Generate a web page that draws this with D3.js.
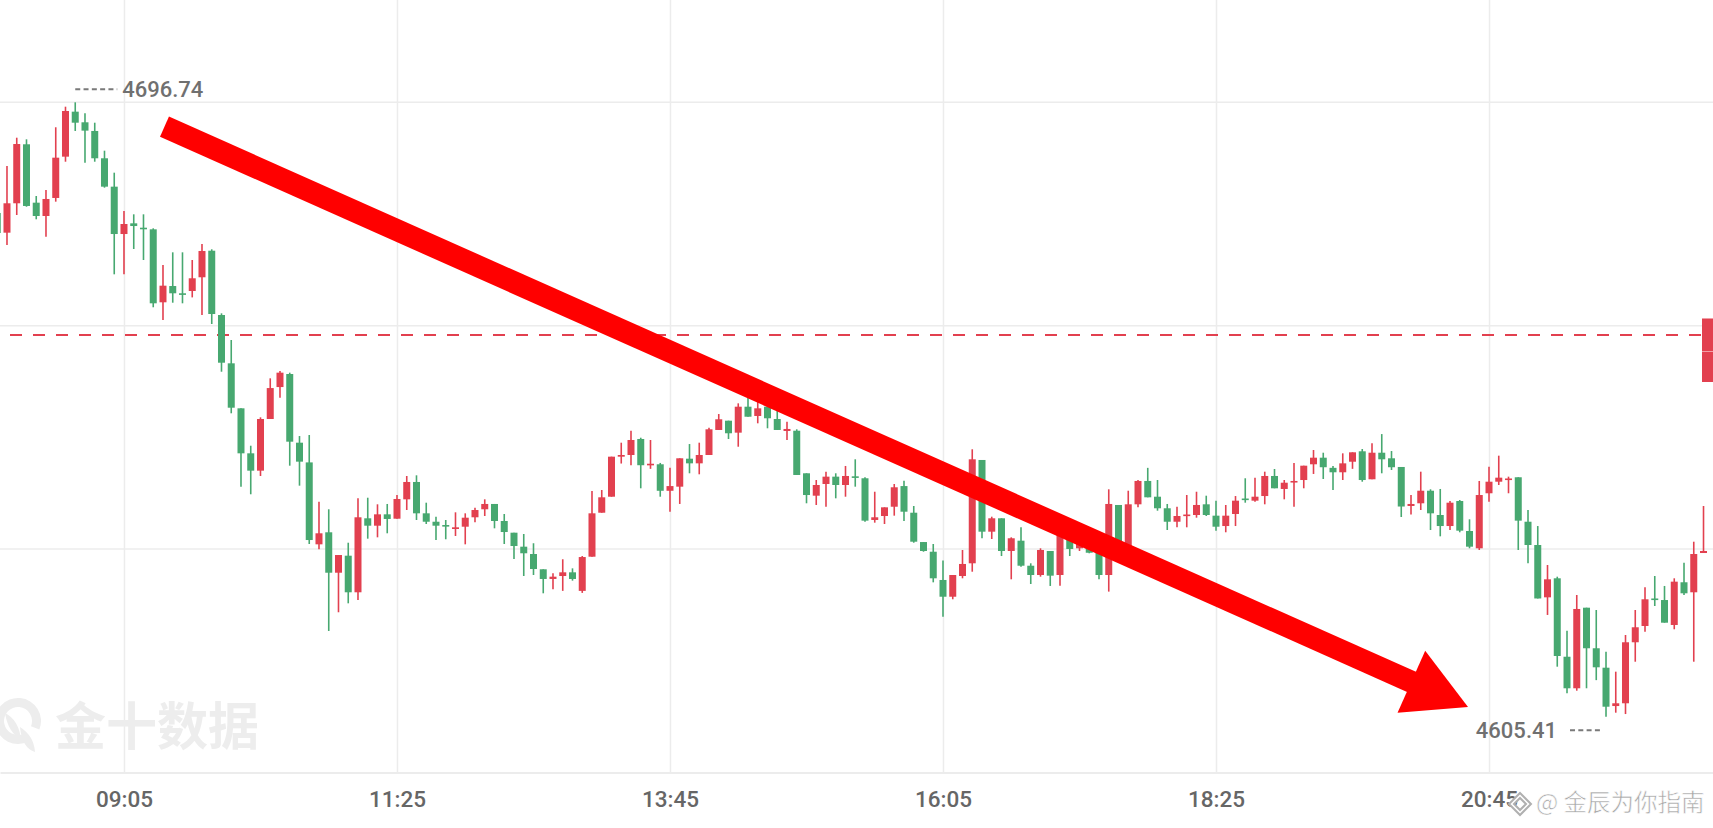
<!DOCTYPE html>
<html>
<head>
<meta charset="utf-8">
<script src="https://cdn.jsdelivr.net/npm/d3@7"></script>
<style>
  html, body { margin: 0; padding: 0; background: #fff; overflow: hidden; }
  svg { display: block; }
</style>
</head>
<body>
<div class="center"></div>
<script>
const w = 1713;
const h = 828;
const plotBottom = 772.5;

// 5 minute candles, first one at 08:00
const startTime = new Date(2026, 0, 5, 8, 0);
const stepMinutes = 5;

const open = [
  4680.29, 4677.36, 4681.73, 4690.50, 4681.82, 4679.84, 4682.52, 4688.66, 4695.35, 4693.77,
  4692.48, 4688.42, 4684.20, 4677.16, 4678.75, 4678.10, 4677.86, 4667.01, 4669.43, 4668.35,
  4668.69, 4670.73, 4674.68, 4665.12, 4657.94, 4651.25, 4644.56, 4641.98, 4649.66, 4654.41,
  4656.35, 4646.14, 4643.21, 4631.03, 4632.82, 4626.81, 4629.34, 4623.90, 4634.90, 4633.80,
  4635.49, 4634.84, 4637.72, 4640.30, 4635.64, 4634.39, 4633.90, 4633.31, 4633.65, 4635.05,
  4636.24, 4637.03, 4634.50, 4632.76, 4630.68, 4629.59, 4627.32, 4625.88, 4626.32, 4626.87,
  4624.11, 4629.19, 4635.73, 4638.11, 4644.06, 4644.31, 4646.69, 4642.86, 4642.93, 4638.99,
  4639.60, 4643.76, 4643.07, 4644.31, 4648.03, 4649.41, 4647.63, 4651.49, 4650.11, 4651.49,
  4649.66, 4647.88, 4647.92, 4641.59, 4638.26, 4640.00, 4641.09, 4639.85, 4641.14, 4640.85,
  4634.65, 4635.24, 4636.62, 4639.69, 4635.73, 4631.37, 4629.93, 4625.73, 4623.24, 4626.32,
  4628.21, 4643.57, 4632.91, 4634.90, 4630.04, 4631.57, 4627.85, 4626.47, 4630.04, 4626.47,
  4632.42, 4630.44, 4631.03, 4629.78, 4626.47, 4636.88, 4630.44, 4636.98, 4640.45, 4638.11,
  4636.39, 4634.39, 4635.31, 4635.39, 4636.98, 4635.29, 4633.75, 4635.54, 4637.84, 4637.52,
  4638.21, 4641.19, 4639.26, 4640.22, 4640.59, 4642.93, 4643.91, 4642.40, 4641.74, 4643.31,
  4644.86, 4640.70, 4644.65, 4643.82, 4642.53, 4636.73, 4637.13, 4639.00, 4635.39, 4633.75,
  4637.47, 4633.01, 4630.44, 4638.62, 4640.34, 4640.67, 4641.00, 4634.39, 4630.93, 4623.15,
  4625.98, 4614.32, 4609.63, 4621.61, 4615.58, 4612.69, 4606.99, 4607.40, 4616.47, 4618.89,
  4622.98, 4622.75, 4619.04, 4625.39, 4623.90, 4629.74
];
const high = [
  4681.33, 4687.27, 4691.48, 4691.24, 4682.81, 4683.70, 4693.03, 4696.09, 4696.74, 4695.11,
  4693.71, 4689.55, 4686.28, 4680.58, 4680.09, 4680.09, 4678.01, 4672.56, 4674.44, 4674.44,
  4673.30, 4675.68, 4674.89, 4665.37, 4661.41, 4651.25, 4645.69, 4649.91, 4655.71, 4656.80,
  4656.55, 4647.13, 4647.28, 4637.37, 4636.24, 4629.44, 4631.27, 4637.87, 4637.96, 4636.98,
  4637.03, 4638.36, 4641.19, 4641.29, 4637.22, 4635.14, 4634.65, 4635.79, 4635.64, 4636.47,
  4637.72, 4637.03, 4635.54, 4632.76, 4632.57, 4631.19, 4627.32, 4626.73, 4628.81, 4627.46,
  4629.29, 4638.96, 4639.11, 4644.06, 4646.14, 4647.92, 4646.88, 4646.54, 4643.13, 4642.40,
  4643.82, 4645.94, 4646.14, 4648.37, 4650.40, 4649.41, 4651.99, 4653.34, 4652.98, 4652.23,
  4651.74, 4649.26, 4648.13, 4641.59, 4640.59, 4641.83, 4641.59, 4642.68, 4643.67, 4641.00,
  4638.85, 4636.53, 4640.00, 4640.49, 4636.73, 4631.37, 4631.08, 4628.62, 4626.47, 4630.19,
  4645.16, 4643.57, 4635.14, 4634.90, 4632.07, 4633.56, 4628.21, 4630.44, 4630.04, 4632.82,
  4632.42, 4631.93, 4631.03, 4629.78, 4639.21, 4636.88, 4639.00, 4640.59, 4642.40, 4640.59,
  4637.03, 4636.62, 4638.36, 4638.85, 4638.26, 4637.52, 4636.88, 4638.21, 4640.85, 4640.94,
  4641.83, 4642.23, 4640.59, 4643.13, 4642.72, 4645.05, 4644.65, 4642.68, 4644.56, 4644.71,
  4645.20, 4646.05, 4647.42, 4644.90, 4642.53, 4638.36, 4641.83, 4639.21, 4639.26, 4637.47,
  4637.62, 4634.75, 4640.45, 4642.57, 4644.21, 4641.09, 4641.00, 4636.13, 4633.75, 4627.96,
  4626.22, 4618.18, 4623.50, 4621.61, 4621.27, 4615.07, 4612.10, 4617.55, 4621.27, 4624.64,
  4626.32, 4624.84, 4625.98, 4628.30, 4631.42, 4636.73
];
const low = [
  4676.27, 4675.53, 4679.99, 4681.22, 4679.35, 4676.76, 4681.97, 4687.91, 4692.48, 4687.77,
  4687.91, 4684.05, 4671.17, 4671.17, 4674.93, 4673.30, 4666.27, 4664.38, 4666.95, 4666.86,
  4667.74, 4665.12, 4663.78, 4656.69, 4650.51, 4639.60, 4638.47, 4641.19, 4649.66, 4652.83,
  4642.72, 4639.75, 4631.08, 4630.29, 4618.15, 4620.93, 4622.26, 4622.75, 4631.87, 4632.07,
  4632.67, 4634.84, 4636.13, 4634.65, 4634.05, 4631.67, 4631.78, 4632.27, 4631.03, 4634.30,
  4635.24, 4633.41, 4631.08, 4628.85, 4626.32, 4626.47, 4623.75, 4624.36, 4624.11, 4625.63,
  4623.81, 4629.19, 4635.73, 4638.11, 4643.04, 4642.79, 4639.36, 4642.25, 4638.11, 4635.88,
  4637.03, 4641.59, 4641.44, 4644.31, 4648.03, 4646.69, 4645.54, 4650.00, 4649.02, 4648.28,
  4648.03, 4646.54, 4641.34, 4637.13, 4636.88, 4636.62, 4637.87, 4638.11, 4639.60, 4634.39,
  4634.25, 4634.05, 4635.29, 4634.50, 4631.27, 4629.93, 4625.38, 4620.26, 4622.86, 4625.98,
  4626.96, 4631.93, 4631.82, 4629.29, 4625.83, 4627.70, 4625.13, 4626.22, 4624.84, 4624.89,
  4629.29, 4630.04, 4629.70, 4625.83, 4624.00, 4630.44, 4630.44, 4636.53, 4638.02, 4636.03,
  4633.16, 4633.56, 4633.56, 4634.99, 4635.24, 4633.06, 4632.82, 4633.75, 4637.22, 4637.37,
  4636.98, 4639.36, 4637.72, 4636.62, 4639.36, 4641.49, 4640.74, 4639.11, 4640.59, 4642.25,
  4640.34, 4640.70, 4641.59, 4642.08, 4635.09, 4635.46, 4636.13, 4633.16, 4632.22, 4633.16,
  4632.82, 4630.44, 4630.19, 4637.37, 4639.85, 4638.62, 4630.19, 4628.21, 4622.98, 4620.53,
  4612.84, 4608.89, 4609.27, 4609.63, 4610.84, 4605.41, 4606.00, 4605.80, 4613.58, 4618.04,
  4621.86, 4619.38, 4618.40, 4623.50, 4613.58, 4629.74
];
const close = [
  4677.31, 4681.73, 4690.54, 4681.33, 4679.84, 4682.37, 4688.51, 4695.45, 4693.71, 4692.53,
  4688.42, 4684.20, 4677.16, 4678.65, 4678.35, 4677.95, 4666.86, 4669.48, 4668.35, 4668.20,
  4670.58, 4674.64, 4665.27, 4658.03, 4651.34, 4644.56, 4641.98, 4649.66, 4654.26, 4656.55,
  4646.29, 4643.32, 4631.67, 4632.67, 4626.81, 4629.44, 4623.90, 4635.05, 4633.80, 4635.49,
  4634.80, 4637.77, 4640.30, 4635.64, 4634.39, 4633.80, 4633.75, 4633.56, 4634.99, 4636.13,
  4637.03, 4634.50, 4632.86, 4630.78, 4629.70, 4627.36, 4625.88, 4626.22, 4626.87, 4625.88,
  4629.14, 4635.64, 4638.02, 4644.06, 4644.31, 4646.54, 4642.79, 4643.01, 4638.99, 4639.69,
  4643.82, 4643.07, 4644.31, 4648.13, 4649.62, 4647.54, 4651.49, 4650.00, 4651.25, 4649.77,
  4648.03, 4648.18, 4641.34, 4638.36, 4639.85, 4641.09, 4639.85, 4641.19, 4640.94, 4634.55,
  4635.05, 4636.53, 4639.51, 4635.88, 4631.42, 4630.04, 4625.98, 4623.24, 4626.47, 4628.11,
  4643.67, 4632.91, 4634.90, 4630.04, 4631.93, 4627.85, 4626.47, 4630.19, 4626.37, 4632.82,
  4630.34, 4631.57, 4629.78, 4626.47, 4637.03, 4630.44, 4636.98, 4640.45, 4638.02, 4636.39,
  4634.39, 4635.24, 4635.46, 4636.88, 4635.39, 4633.65, 4635.29, 4637.52, 4637.62, 4638.11,
  4641.19, 4639.36, 4640.19, 4640.45, 4642.72, 4643.91, 4642.49, 4641.74, 4643.07, 4644.71,
  4640.59, 4644.65, 4643.67, 4642.49, 4636.65, 4637.03, 4639.00, 4635.64, 4633.75, 4637.22,
  4633.06, 4630.68, 4638.36, 4640.34, 4640.94, 4640.82, 4634.55, 4630.93, 4622.98, 4625.83,
  4614.43, 4609.63, 4621.42, 4615.58, 4612.75, 4606.89, 4607.40, 4616.47, 4618.70, 4622.86,
  4622.75, 4619.38, 4625.48, 4623.75, 4629.59, 4630.04
];

const tickLabels = ["09:05", "11:25", "13:45", "16:05", "18:25", "20:45"];
const gridPrices = [4696.74, 4663.54, 4630.34];
const refPrice = 4662.15;
// hand-drawn arrow, start and tip in (time, price)
const arrowFrom = ["09:25:46", 4693.12];
const arrowTo = ["20:34:14", 4606.85];

const upColor = "#e2404f";
const downColor = "#47a870";

const parseTime = s => {
    const p = s.split(":").map(Number);
    return new Date(2026, 0, 5, p[0], p[1], p[2] || 0);
};

const svg = d3.select(".center")
    .append("svg")
    .attr("width", w)
    .attr("height", h)
    .style("background", "#fff");

const xScale = d3.scaleTime()
    .domain([parseTime("08:01:25"), parseTime("22:39:52")])
    .range([0, w]);
const yScale = d3.scaleLinear()
    .domain([4597.11, 4711.95])
    .range([plotBottom, 0]);

const candles = open.map((o, i) => ({
    t: d3.timeMinute.offset(startTime, i * stepMinutes),
    o: o, h: high[i], l: low[i], c: close[i]
}));

// horizontal grid
svg.selectAll("line.hgrid")
    .data(gridPrices)
    .enter()
    .append("line")
    .attr("class", "hgrid")
    .attr("x1", 0)
    .attr("x2", w)
    .attr("y1", d => yScale(d))
    .attr("y2", d => yScale(d))
    .attr("stroke", "#ececec")
    .attr("stroke-width", 1.5);

// x axis + vertical grid
const xAxis = d3.axisBottom(xScale)
    .tickValues(tickLabels.map(parseTime))
    .tickFormat(d3.timeFormat("%H:%M"))
    .tickSize(-plotBottom)
    .tickSizeOuter(0)
    .tickPadding(19);

svg.append("g")
    .attr("transform", `translate(0,${plotBottom})`)
    .call(xAxis)
    .call(g => g.select(".domain").attr("stroke", "#e6e6e6").attr("stroke-width", 1.5))
    .call(g => g.selectAll(".tick line").attr("stroke", "#ececec").attr("stroke-width", 1.5))
    .call(g => g.selectAll(".tick text")
        .attr("font-family", "Roboto, 'DejaVu Sans', sans-serif")
        .attr("font-weight", 500)
        .attr("font-size", 22.5)
        .attr("fill", "#666"));

// 金十数据 watermark
const wmColor = "#ededed";
const wm = svg.append("g").attr("fill", wmColor);
wm.append("path")
    .attr("transform", "translate(18,721)")
    .attr("d", d3.arc()({innerRadius: 14, outerRadius: 23, startAngle: 0.85 * Math.PI, endAngle: 2.62 * Math.PI}));
wm.append("path").attr("d", "M20,727 Q34,736 35,752 Q22,748 20,727 Z");
wm.append("path").attr("d", "M5,713 Q19,720 21,740 Q8,732 5,713 Z");
wm.append("text")
    .attr("x", 55)
    .attr("y", 745)
    .attr("font-family", "'Noto Sans CJK SC', sans-serif")
    .attr("font-weight", 700)
    .attr("font-size", 51)
    .text("金十数据");

// reference price dashed line
svg.append("line")
    .attr("x1", 10)
    .attr("x2", 1702)
    .attr("y1", yScale(refPrice))
    .attr("y2", yScale(refPrice))
    .attr("stroke", upColor)
    .attr("stroke-width", 2)
    .attr("stroke-dasharray", "12,11");

// candles
const g = svg.append("g");
g.selectAll("line.wick")
    .data(candles)
    .enter()
    .append("line")
    .attr("class", "wick")
    .attr("x1", d => xScale(d.t))
    .attr("x2", d => xScale(d.t))
    .attr("y1", d => yScale(d.h))
    .attr("y2", d => yScale(d.l))
    .attr("stroke", d => d.c >= d.o ? upColor : downColor)
    .attr("stroke-width", 1.6);

g.selectAll("rect.body")
    .data(candles)
    .enter()
    .append("rect")
    .attr("class", "body")
    .attr("x", d => xScale(d.t) - 3.5)
    .attr("y", d => yScale(Math.max(d.o, d.c)))
    .attr("width", 7)
    .attr("height", d => Math.max(1.6, Math.abs(yScale(d.o) - yScale(d.c))))
    .attr("fill", d => d.c >= d.o ? upColor : downColor);

// max / min markers
const hiIdx = d3.maxIndex(high);
const loIdx = d3.minIndex(low);
const hx = xScale(candles[hiIdx].t), hy = yScale(high[hiIdx]) - 13;
const lx = xScale(candles[loIdx].t), ly = yScale(low[loIdx]) + 13.5;

svg.append("line")
    .attr("x1", hx).attr("x2", hx + 42)
    .attr("y1", hy).attr("y2", hy)
    .attr("stroke", "#7a7a7a").attr("stroke-width", 2)
    .attr("stroke-dasharray", "5,3.3");
svg.append("text")
    .attr("x", hx + 47)
    .attr("y", hy)
    .attr("dy", "0.36em")
    .attr("font-family", "Roboto, sans-serif")
    .attr("font-weight", 500)
    .attr("font-size", 22)
    .attr("fill", "#707070")
    .text(d3.format(".2f")(high[hiIdx]));

svg.append("line")
    .attr("x1", lx - 36).attr("x2", lx - 4)
    .attr("y1", ly).attr("y2", ly)
    .attr("stroke", "#7a7a7a").attr("stroke-width", 2)
    .attr("stroke-dasharray", "5,3.3");
svg.append("text")
    .attr("x", lx - 49)
    .attr("y", ly)
    .attr("dy", "0.36em")
    .attr("text-anchor", "end")
    .attr("font-family", "Roboto, sans-serif")
    .attr("font-weight", 500)
    .attr("font-size", 22)
    .attr("fill", "#707070")
    .text(d3.format(".2f")(low[loIdx]));

// right edge price tag (cut off by the frame)
const ry = yScale(refPrice);
svg.append("rect")
    .attr("x", 1702).attr("y", ry - 16.5)
    .attr("width", 40).attr("height", 33)
    .attr("fill", upColor);
svg.append("rect")
    .attr("x", 1702).attr("y", ry + 17)
    .attr("width", 40).attr("height", 30)
    .attr("fill", upColor);

// big red arrow
const ax0 = xScale(parseTime(arrowFrom[0])), ay0 = yScale(arrowFrom[1]);
const ax1 = xScale(parseTime(arrowTo[0])), ay1 = yScale(arrowTo[1]);
const len = Math.hypot(ax1 - ax0, ay1 - ay0);
const ux = (ax1 - ax0) / len, uy = (ay1 - ay0) / len;
const headLen = 62, headHalf = 34;
const bx = ax1 - ux * headLen, by = ay1 - uy * headLen;

svg.append("line")
    .attr("x1", ax0).attr("y1", ay0)
    .attr("x2", bx + ux * 2).attr("y2", by + uy * 2)
    .attr("stroke", "#ff0000")
    .attr("stroke-width", 22);
svg.append("path")
    .attr("d", d3.line()([
        [ax1, ay1],
        [bx - uy * headHalf, by + ux * headHalf],
        [bx + uy * headHalf, by - ux * headHalf]
    ]) + "Z")
    .attr("fill", "#ff0000");

// bottom-right source watermark
const src = svg.append("g");
src.append("path")
    .attr("d", "M1520,793 L1531,804 L1520,815 L1509,804 Z M1514,804 L1520,798 L1526,804 L1520,810 Z")
    .attr("fill", "#fff")
    .attr("fill-rule", "evenodd")
    .attr("stroke", "#b0b0b0")
    .attr("stroke-width", 2);
src.append("text")
    .attr("x", 1536)
    .attr("y", 811)
    .attr("font-family", "'Noto Sans CJK SC', sans-serif")
    .attr("font-size", 23.5)
    .attr("fill", "#a6a6a6")
    .attr("stroke", "#fff")
    .attr("stroke-width", 0.6)
    .text("@ 金辰为你指南");
</script>
</body>
</html>
